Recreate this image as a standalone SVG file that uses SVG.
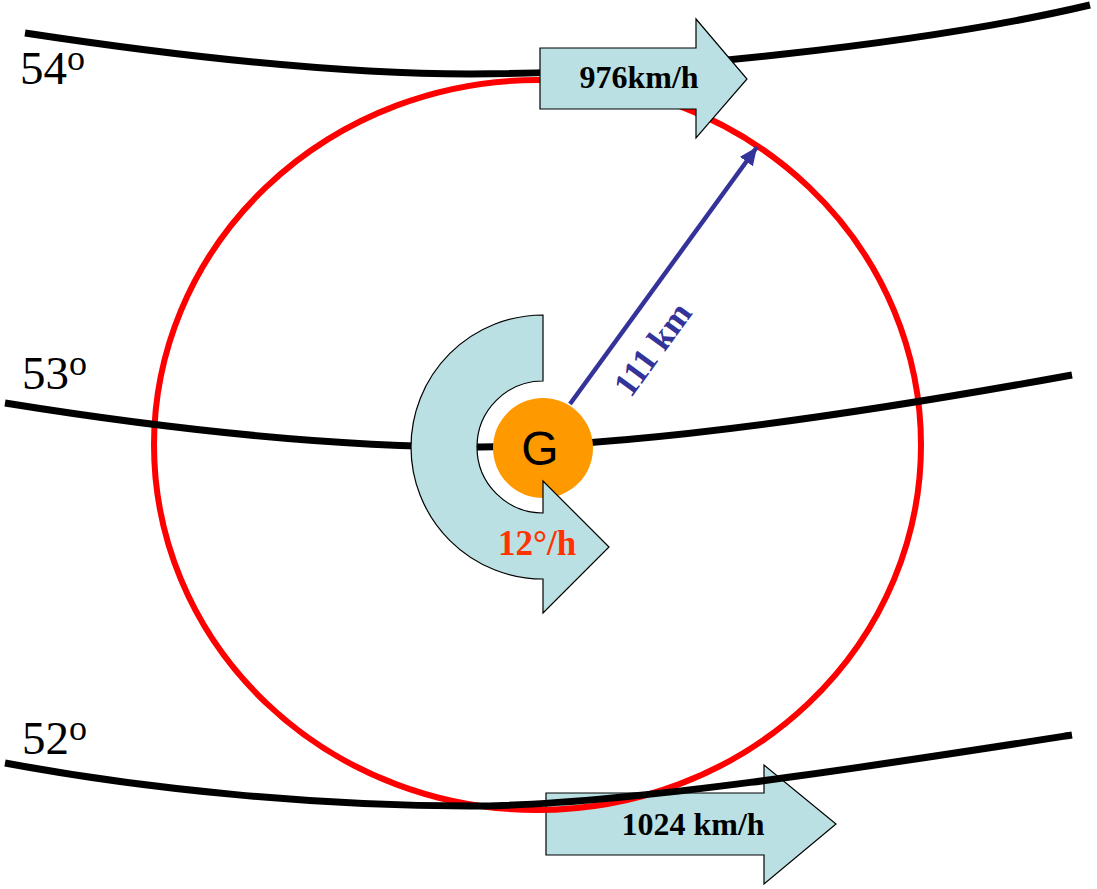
<svg xmlns="http://www.w3.org/2000/svg" width="1097" height="889" viewBox="0 0 1097 889">
<style>
.blk{fill:#BBE0E3;stroke:#000;stroke-width:1.2}
.lat{fill:none;stroke:#000;stroke-width:7}
.spd{font-family:"Liberation Serif","Times New Roman",serif;font-size:32px;font-weight:bold;fill:#000;text-anchor:middle}
</style>
<defs>
<marker id="ah" markerUnits="userSpaceOnUse" markerWidth="20" markerHeight="16" refX="18" refY="8" orient="auto">
<path d="M0,0 L18,8 L0,16 Z" fill="#333399"/>
</marker>
</defs>
<rect width="1097" height="889" fill="#fff"/>
<g id="arrow-bottom">
<path class="blk" d="M546,793 H764 V765 L836,824 L764,884 V855 H546 Z"/>
</g>
<g id="orbit">
<ellipse cx="537.5" cy="445" rx="383.5" ry="365" fill="none" stroke="#FF0000" stroke-width="6"/>
</g>
<g id="parallels">
<path id="lat54" class="lat" d="M25,33 C170,55 330,74 470,74 C640,74 920,45 1090,5"/>
<path id="lat53" class="lat" d="M5,403 C160,428 330,447 480,447 C640,447 880,410 1072,375"/>
<path id="lat52" class="lat" d="M5,763 C150,790 320,806 470,806 C620,806 880,765 1072,735"/>
</g>
<g id="connectors">
<line x1="570" y1="404" x2="757" y2="147" stroke="#333399" stroke-width="4.5" marker-end="url(#ah)"/>
</g>
<g id="G">
<circle cx="543" cy="448" r="50" fill="#FF9900"/>
<text x="540" y="465" font-family="'Liberation Sans',Arial,sans-serif" font-size="48" text-anchor="middle" fill="#000">G</text>
</g>
<g id="rotation">
<path class="blk" d="M543,315 A132,132 0 0 0 543,579 L543,613 L609,547 L543,481 L543,513 A66,66 0 0 1 543,381 Z"/>
<text x="537" y="555" font-family="'Liberation Serif','Times New Roman',serif" font-size="35" font-weight="bold" fill="#FF3300" text-anchor="middle">12°/h</text>
</g>
<g id="arrow-top">
<path class="blk" d="M540,48 H696 V19 L747,79 L696,138 V109 H540 Z"/>
<text class="spd" x="639" y="88">976km/h</text>
</g>
<g id="bottom-label">
<text class="spd" x="693" y="835">1024 km/h</text>
</g>
<g id="radius-label">
<text transform="translate(662,356) rotate(-53.9)" font-family="'Liberation Serif','Times New Roman',serif" font-size="35" font-weight="bold" fill="#333399" text-anchor="middle">111 km</text>
</g>
<g id="labels" font-family="'Liberation Serif','Times New Roman',serif" font-size="47" fill="#000">
<text x="20" y="84">54<tspan font-size="36" dy="-14">o</tspan></text>
<text x="22" y="389">53<tspan font-size="36" dy="-14">o</tspan></text>
<text x="22" y="754">52<tspan font-size="36" dy="-14">o</tspan></text>
</g>
</svg>
